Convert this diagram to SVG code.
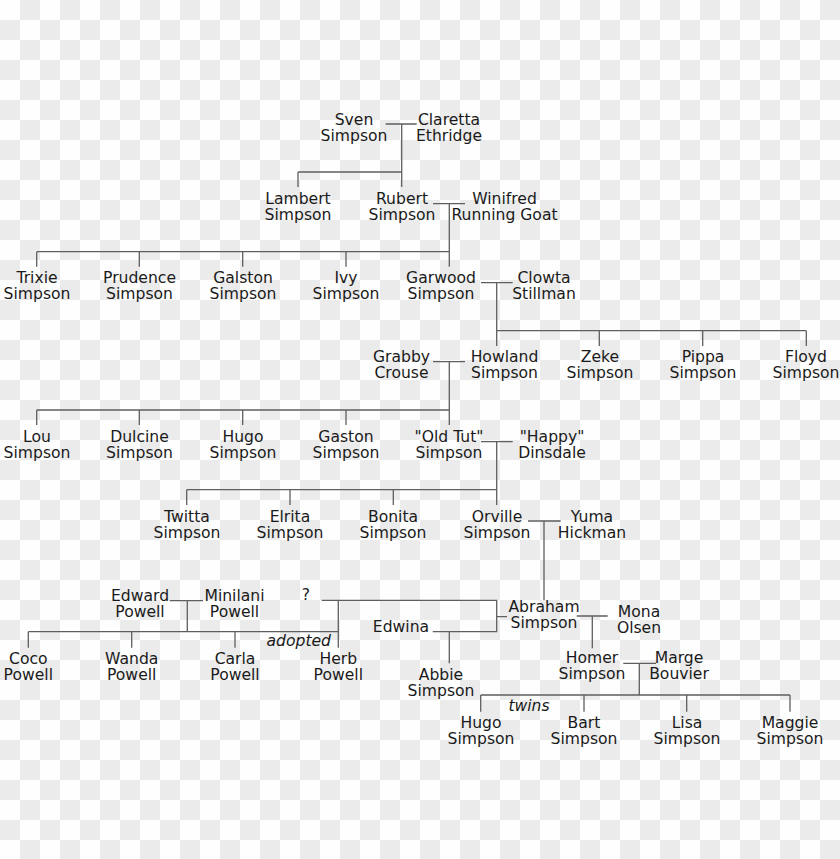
<svg xmlns="http://www.w3.org/2000/svg" width="840" height="859" viewBox="0 0 840 859">
<defs>
<pattern id="chk" x="0" y="0" width="40" height="40" patternUnits="userSpaceOnUse">
<rect width="40" height="40" fill="#fefefe"/>
<rect x="20" y="0" width="20" height="20" fill="#ebebeb"/>
<rect x="0" y="20" width="20" height="20" fill="#ebebeb"/>
</pattern>
<style>
text{font-family:"DejaVu Sans","Liberation Sans",sans-serif;font-size:15.6px;fill:#1a1a1a;text-anchor:middle}
.it{font-style:italic}
.end{text-anchor:end}
#connectors path{fill:none;stroke:#5f5f5f;stroke-width:1.3}
</style>
</defs>
<rect width="840" height="859" fill="url(#chk)"/>
<g id="connectors">
<path d="M385.7,124H416.7M401.7,124V187M298,172H401.7M298,172V187"/>
<path d="M433,203.7H465M449.3,203.7V266.7M36.7,251.7H449.3M36.7,251.7V266.7M139.3,251.7V266.7M242.7,251.7V266.7M346,251.7V266.7"/>
<path d="M481,282.7H512.7M496.7,282.7V346M496.7,330.7H806.3M599.3,330.7V346M702.7,330.7V346M806.3,330.7V346"/>
<path d="M433,361.7H465M449.3,361.7V425M36.7,410H449.3M36.7,410V425M139.3,410V425M242.7,410V425M346,410V425"/>
<path d="M481,441.7H512.7M496.7,441.7V505M186.7,489.7H496.7M186.7,489.7V505M290,489.7V505M393.3,489.7V505"/>
<path d="M528,521H560.7M544,521V600"/>
<path d="M169.7,600.7H203M187.3,600.7V631.7M28.3,631.7H338.3M28.3,631.7V647.7M131.7,631.7V647.7M235,631.7V647.7"/>
<path d="M321.7,600.3H496.7V631.7H432.7M338.3,600.3V647.7M496.7,616.7H507"/>
<path d="M449.3,631.7V663.3"/>
<path d="M576.7,616H607.7M592.3,616V648.3"/>
<path d="M623.3,663.3H656M639.3,663.3V695M480.7,695H790M480.7,695V711.7M584,695V711.7M686.7,695V711.7M790,695V711.7"/>
</g>
<g id="sven"><text x="354" y="125">Sven<tspan x="354" dy="16">Simpson</tspan></text></g>
<g id="claretta"><text x="449" y="125">Claretta<tspan x="449" dy="16">Ethridge</tspan></text></g>
<g id="lambert"><text x="298" y="204">Lambert<tspan x="298" dy="16">Simpson</tspan></text></g>
<g id="rubert"><text x="402" y="204">Rubert<tspan x="402" dy="16">Simpson</tspan></text></g>
<g id="winifred"><text x="504.5" y="204">Winifred<tspan x="504.5" dy="16">Running Goat</tspan></text></g>
<g id="trixie"><text x="37" y="283">Trixie<tspan x="37" dy="16">Simpson</tspan></text></g>
<g id="prudence"><text x="139.5" y="283">Prudence<tspan x="139.5" dy="16">Simpson</tspan></text></g>
<g id="galston"><text x="243" y="283">Galston<tspan x="243" dy="16">Simpson</tspan></text></g>
<g id="ivy"><text x="346" y="283">Ivy<tspan x="346" dy="16">Simpson</tspan></text></g>
<g id="garwood"><text x="441" y="283">Garwood<tspan x="441" dy="16">Simpson</tspan></text></g>
<g id="clowta"><text x="544" y="283">Clowta<tspan x="544" dy="16">Stillman</tspan></text></g>
<g id="grabby"><text x="401.5" y="362">Grabby<tspan x="401.5" dy="16">Crouse</tspan></text></g>
<g id="howland"><text x="504.5" y="362">Howland<tspan x="504.5" dy="16">Simpson</tspan></text></g>
<g id="zeke"><text x="600" y="362">Zeke<tspan x="600" dy="16">Simpson</tspan></text></g>
<g id="pippa"><text x="703" y="362">Pippa<tspan x="703" dy="16">Simpson</tspan></text></g>
<g id="floyd"><text x="806" y="362">Floyd<tspan x="806" dy="16">Simpson</tspan></text></g>
<g id="lou"><text x="37" y="441.5">Lou<tspan x="37" dy="16">Simpson</tspan></text></g>
<g id="dulcine"><text x="139.5" y="441.5">Dulcine<tspan x="139.5" dy="16">Simpson</tspan></text></g>
<g id="hugo1"><text x="243" y="441.5">Hugo<tspan x="243" dy="16">Simpson</tspan></text></g>
<g id="gaston"><text x="346" y="441.5">Gaston<tspan x="346" dy="16">Simpson</tspan></text></g>
<g id="oldtut"><text x="449" y="441.5">"Old Tut"<tspan x="449" dy="16">Simpson</tspan></text></g>
<g id="happy"><text x="552" y="441.5">"Happy"<tspan x="552" dy="16">Dinsdale</tspan></text></g>
<g id="twitta"><text x="187" y="521.5">Twitta<tspan x="187" dy="16">Simpson</tspan></text></g>
<g id="elrita"><text x="290" y="521.5">Elrita<tspan x="290" dy="16">Simpson</tspan></text></g>
<g id="bonita"><text x="393" y="521.5">Bonita<tspan x="393" dy="16">Simpson</tspan></text></g>
<g id="orville"><text x="497" y="521.5">Orville<tspan x="497" dy="16">Simpson</tspan></text></g>
<g id="yuma"><text x="592" y="521.5">Yuma<tspan x="592" dy="16">Hickman</tspan></text></g>
<g id="edward"><text x="140" y="600.5">Edward<tspan x="140" dy="16">Powell</tspan></text></g>
<g id="minilani"><text x="234.5" y="600.5">Minilani<tspan x="234.5" dy="16">Powell</tspan></text></g>
<g id="unknown"><text x="306" y="600">?</text></g>
<g id="abraham"><text x="544" y="612">Abraham<tspan x="544" dy="16">Simpson</tspan></text></g>
<g id="mona"><text x="639" y="616.5">Mona<tspan x="639" dy="16">Olsen</tspan></text></g>
<g id="edwina"><text x="401" y="631.5">Edwina</text></g>
<g id="coco"><text x="28.3" y="663.5">Coco<tspan x="28.3" dy="16">Powell</tspan></text></g>
<g id="wanda"><text x="131.7" y="663.5">Wanda<tspan x="131.7" dy="16">Powell</tspan></text></g>
<g id="carla"><text x="235" y="663.5">Carla<tspan x="235" dy="16">Powell</tspan></text></g>
<g id="herb"><text x="338.3" y="663.5">Herb<tspan x="338.3" dy="16">Powell</tspan></text></g>
<text class="it end" x="331" y="645.5">adopted</text>
<g id="homer"><text x="592" y="663">Homer<tspan x="592" dy="16">Simpson</tspan></text></g>
<g id="marge"><text x="679" y="663">Marge<tspan x="679" dy="16">Bouvier</tspan></text></g>
<g id="abbie"><text x="441" y="679.5">Abbie<tspan x="441" dy="16">Simpson</tspan></text></g>
<text class="it" x="529" y="711">twins</text>
<g id="hugo2"><text x="481" y="727.5">Hugo<tspan x="481" dy="16">Simpson</tspan></text></g>
<g id="bart"><text x="584" y="727.5">Bart<tspan x="584" dy="16">Simpson</tspan></text></g>
<g id="lisa"><text x="687" y="727.5">Lisa<tspan x="687" dy="16">Simpson</tspan></text></g>
<g id="maggie"><text x="790" y="727.5">Maggie<tspan x="790" dy="16">Simpson</tspan></text></g>
</svg>
